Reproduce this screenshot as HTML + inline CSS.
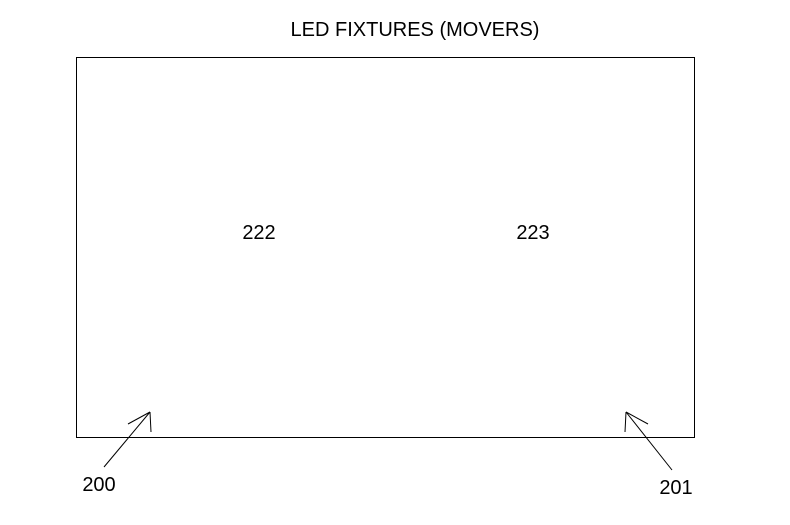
<!DOCTYPE html>
<html><head><style>
body{margin:0;background:#fff;width:790px;height:520px;overflow:hidden}
</style></head><body>
<svg width="790" height="520" xmlns="http://www.w3.org/2000/svg" font-family="Liberation Sans, sans-serif" font-size="20" fill="#000">
<text x="415" y="36" text-anchor="middle">LED FIXTURES (MOVERS)</text>
<rect x="76.5" y="57.5" width="618" height="380" fill="none" stroke="#000" stroke-width="1"/>
<text x="259" y="239" text-anchor="middle">222</text>
<text x="533" y="239" text-anchor="middle">223</text>
<g stroke="#000" stroke-width="1" fill="none">
<line x1="104" y1="467" x2="150" y2="412"/>
<line x1="150" y1="412" x2="128" y2="424"/>
<line x1="150" y1="412" x2="151" y2="432"/>
<line x1="672" y1="470" x2="626" y2="412"/>
<line x1="626" y1="412" x2="648" y2="424"/>
<line x1="626" y1="412" x2="625" y2="432"/>
</g>
<text x="99" y="491" text-anchor="middle">200</text>
<text x="676" y="494" text-anchor="middle">201</text>
</svg>
</body></html>
